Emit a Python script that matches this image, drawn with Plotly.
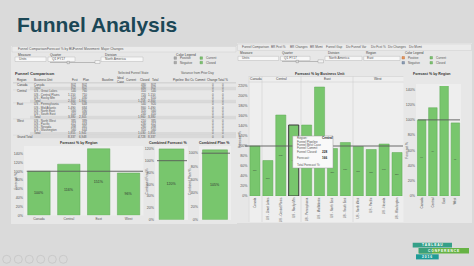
import plotly.graph_objects as go

W, H = 474, 266
def fx(p): return p / W
def fy(p): return 1 - p / H

# ---------------- data ----------------
regions = ["Canada", "Central", "East", "West"]
region_fcst_pct = [1.00, 1.16, 1.51, 0.96]
combined_fcst_pct = [1.20]
combined_plan_pct = [1.05]

bu_names = ["Canada", "US - Great Lakes", "US - Central Plains", "US - Rocky Mtn",
            "US - Pennsylvania", "US - Mid Atlantic", "US - North East", "US - South East",
            "US - North West", "US - Pacific", "US - Nevada", "US - Washington"]
bu_fcst_pct = [1.00, 0.71, 1.62, 1.42, 1.42, 2.18, 0.95, 1.07, 0.99, 0.93, 1.04, 0.87]
bu_groups = ["Canada", "Central", "East", "West"]

tbl_region = ["Canada", "", "Central", "", "", "", "East", "", "", "", "", "West", "", "", "", "", "Grand Total"]
tbl_unit = ["Canada", "Total", "US - Great Lakes", "US - Central Plains", "US - Rocky Mtn", "Total",
            "US - Pennsylvania", "US - Mid Atlantic", "US - North East", "US - South East", "Total",
            "US - North West", "US - Pacific", "US - Nevada", "US - Washington", "Total", ""]
tbl_fcst = [802, 802, 540, 1150, 610, 2300, 920, 1490, 560, 410, 3380, 385, 412, 498, 560, 1855, 8337]
tbl_plan = [802, 802, 760, 710, 430, 1900, 648, 684, 590, 383, 2305, 389, 443, 465, 644, 1941, 6948]
tbl_closed = [480, 480, 310, 720, 228, 1258, 540, 860, 320, 240, 1960, 210, 230, 280, 310, 1030, 4728]
tbl_total = [802, 802, 540, 1150, 610, 2300, 920, 1490, 560, 410, 3380, 385, 412, 498, 560, 1855, 8337]
tbl_var1 = [0] * 17
tbl_var2 = [0] * 17

left_tabs = ["Funnel Comparison", "Forecast % by BU", "Funnel Movement", "Major Changes"]
right_tabs = ["Funnel Comparison", "BR Fcst %", "BR Changes", "BR Mvmt", "Funnel Gap",
              "Div Funnel Var", "Div Fcst %", "Div Changes", "Div Mvmt"]

# ---------------- styles ----------------
FONT = "Liberation Sans, Arial, sans-serif"
BAR = "#78c66d"
BAR_LINE = "#5ea955"
TXT = "#555555"
SMALL = 3.6

fig = go.Figure()
shapes = []
ann = []

def rect(x0, y0, x1, y1, fill, line=None, lw=0.6, layer="below"):
    shapes.append(dict(type="rect", xref="paper", yref="paper", x0=fx(x0), x1=fx(x1),
                       y0=fy(y1), y1=fy(y0), fillcolor=fill, layer=layer,
                       line=dict(color=line or fill, width=lw if line else 0)))

def hline(x0, x1, y, color="#c4c4c4", w=0.6, layer="below"):
    shapes.append(dict(type="line", xref="paper", yref="paper", x0=fx(x0), x1=fx(x1),
                       y0=fy(y), y1=fy(y), layer=layer, line=dict(color=color, width=w)))

def vline(x, y0, y1, color="#c4c4c4", w=0.6, layer="below"):
    shapes.append(dict(type="line", xref="paper", yref="paper", x0=fx(x), x1=fx(x),
                       y0=fy(y0), y1=fy(y1), layer=layer, line=dict(color=color, width=w)))

def txt(x, y, s, size=SMALL, color=TXT, xa="left", angle=0, bold=False):
    if bold:
        s = "<b>" + s + "</b>"
    ann.append(dict(x=fx(x), y=fy(y), xref="paper", yref="paper", text=s, showarrow=False,
                    xanchor=xa, yanchor="middle", textangle=angle,
                    font=dict(size=size, color=color, family=FONT)))

# ---------------- background panels ----------------
rect(11, 46, 237, 224, "#e7e7e7")
rect(237, 43, 472, 223, "#e7e7e7")

# title
txt(14.5, 24.5, "Funnel Analysis", size=21, color="#1b4756", bold=True)

# left tabs / filters
rect(12, 46.5, 236, 52, "#ebebeb", "#cfcfcf", 0.5)
tab_x = [16, 45, 71, 99]
for x, t in zip(tab_x, left_tabs):
    txt(x, 49.3, t, size=3.3)
txt(16, 54.5, "Measure", size=3.3, color="#444")
txt(48, 54.5, "Quarter", size=3.3, color="#444")
txt(103, 54.5, "Division", size=3.3, color="#444")
txt(174, 54.5, "Color Legend", size=3.3, color="#444")
rect(15, 57, 46, 61.5, "#f7f7f7", "#b9b9b9", 0.5)
txt(16.5, 59.3, "Units", size=3.3)
rect(48, 57, 75, 61.5, "#f7f7f7", "#b9b9b9", 0.5)
txt(49.5, 59.3, "Q1 FY17", size=3.3)
hline(50, 96, 62.5, "#999", 0.6)
rect(67, 61.3, 69.5, 63.7, "#dcdcdc", "#888", 0.4)
rect(95, 60.5, 100, 63.5, "#f2f2f2", "#999", 0.4)
rect(101, 57, 143, 61.5, "#f7f7f7", "#b9b9b9", 0.5)
txt(102.5, 59.3, "North America", size=3.3)
rect(174, 56.8, 176.5, 59.3, "#aaaaaa", "#888", 0.4)
txt(178, 58.1, "Positive", size=3.1)
rect(174, 61.3, 176.5, 63.8, "#aaaaaa", "#888", 0.4)
txt(178, 62.6, "Negative", size=3.1)
rect(200, 56.8, 202.5, 59.3, "#7cc36f", "#5b9c52", 0.4)
txt(204, 58.1, "Current", size=3.1)
rect(200, 61.3, 202.5, 63.8, "#7cc36f", "#5b9c52", 0.4)
txt(204, 62.6, "Closed", size=3.1)

# ---------------- table ----------------
txt(13, 73.3, "Funnel Comparison", size=4.2, color="#333", bold=True)
txt(133, 73.3, "Selected Funnel State", size=3.1, xa="center")
txt(197, 73.3, "Variance from Prior Day", size=3.1, xa="center")
hdr_y = 80
headers = [(15, "Region", "left"), (31.7, "Business Unit", "left"), (75, "Fcst", "center"),
           (86, "Plan", "center"), (108, "Baseline", "center"), (120, "Ideal<br>Case", "center"),
           (131, "Current", "center"), (145, "Closed", "center"), (155, "Total", "center"),
           (178, "Pipeline", "center"), (189, "Bst Cs", "center"), (200, "Commit", "center"),
           (212, "Change", "center"), (223, "Total %", "center")]
for x, h, a in headers:
    txt(x, hdr_y, h, size=3.0, color="#444", xa=a)
hline(13, 236, 82.5, "#c6c6c6", 0.5)
row_h = 3.23
for i in range(17):
    y = 85 + i * row_h
    if tbl_unit[i] == "Total" or tbl_region[i] == "Grand Total":
        rect(30, y - 1.5, 236, y + 1.5, "#d9d9d9")
    if tbl_region[i]:
        hline(13, 236, y - 1.6, "#cccccc", 0.4)
        txt(14.5, y, tbl_region[i], size=3.0, color="#444")
    txt(31.7, y, tbl_unit[i], size=3.0, color="#555")
    txt(78, y, f"{tbl_fcst[i]:,}", size=3.0, color="#555", xa="right")
    txt(89, y, f"{tbl_plan[i]:,}", size=3.0, color="#555", xa="right")
    txt(148, y, f"{tbl_closed[i]:,}", size=3.0, color="#555", xa="right")
    txt(158, y, f"{tbl_total[i]:,}", size=3.0, color="#555", xa="right")
    txt(212.7, y, str(tbl_var1[i]), size=3.0, color="#555", xa="center")
    txt(223, y, str(tbl_var2[i]), size=3.0, color="#555", xa="center")

# ---------------- axes helpers ----------------
tick_font = dict(size=SMALL, color=TXT, family=FONT)
def yax(dom, rng, anchor, show=True):
    return dict(domain=[fy(dom[1]), fy(dom[0])], range=rng, anchor=anchor, showgrid=False,
                zeroline=False, showline=False, ticks="", tickformat=".0%", dtick=0.2,
                automargin=False, showticklabels=show, tickfont=tick_font, fixedrange=True)
def xax(dom, anchor, show=True, angle=0, size=3.3):
    return dict(domain=[fx(dom[0]), fx(dom[1])], anchor=anchor, showgrid=False, zeroline=False,
                showline=False, ticks="", automargin=False, showticklabels=show,
                tickfont=dict(size=size, color=TXT, family=FONT), tickangle=angle, fixedrange=True)

def pct_text(vals):
    return [f"{v*100:.0f}%" for v in vals]

bar_common = dict(marker=dict(color=BAR, line=dict(color=BAR_LINE, width=0.5)),
                  textposition="inside", insidetextanchor="middle", textangle=0,
                  textfont=dict(size=SMALL, color="#333", family=FONT), showlegend=False,
                  hoverinfo="skip", cliponaxis=False)

# ---------------- left charts ----------------
rect(24, 146, 143.5, 215.5, "#eeeeee")
rect(155, 146, 188, 220, "#eeeeee")
rect(199, 146, 231, 220, "#eeeeee")

fig.add_trace(go.Bar(x=regions, y=region_fcst_pct, text=pct_text(region_fcst_pct), width=0.75,
                     xaxis="x", yaxis="y", **bar_common))
fig.add_trace(go.Bar(x=["Combined"], y=combined_fcst_pct, text=pct_text(combined_fcst_pct), width=0.75,
                     xaxis="x2", yaxis="y2", **bar_common))
fig.add_trace(go.Bar(x=["Combined"], y=combined_plan_pct, text=pct_text(combined_plan_pct), width=0.78,
                     xaxis="x3", yaxis="y3", **bar_common))

txt(79, 143, "Forecast % by Region", size=3.6, color="#333", xa="center", bold=True)
txt(168, 143, "Combined Forecast %", size=3.6, color="#333", xa="center", bold=True)
txt(214, 143, "Combined Plan %", size=3.6, color="#333", xa="center", bold=True)
txt(15.5, 181, "Forecast %", size=3.3, angle=-90, xa="center")
txt(146.5, 182, "Combined Fcst %", size=3.3, angle=-90, xa="center")
txt(190, 182, "Combined Plan %", size=3.3, angle=-90, xa="center")

# ---------------- right panel header ----------------
rect(237.5, 44, 471.5, 50.5, "#ebebeb", "#cfcfcf", 0.5)
rtab_x = [239.7, 268.7, 287.5, 307.7, 324.3, 343.7, 368.7, 386, 407]
for x, t in zip(rtab_x, right_tabs):
    txt(x, 47.3, t, size=3.1)
for x, t in [(238, "Measure"), (280.3, "Quarter"), (326, "Division"), (364, "Region")]:
    txt(x, 53.3, t, size=3.2, color="#444")
rect(238, 56.3, 278.7, 60.5, "#f7f7f7", "#b9b9b9", 0.5)
txt(239.5, 58.4, "Units", size=3.2)
rect(280.5, 56.3, 310, 60.5, "#f7f7f7", "#b9b9b9", 0.5)
txt(282, 58.4, "Q1 FY17", size=3.2)
hline(282, 320, 61.5, "#999", 0.6)
rect(296, 60.3, 298.5, 62.7, "#dcdcdc", "#888", 0.4)
rect(318, 59.8, 323.5, 62.8, "#f2f2f2", "#999", 0.4)
rect(325, 56.3, 362, 60.5, "#f7f7f7", "#b9b9b9", 0.5)
txt(326.5, 58.4, "North America", size=3.2)
rect(363.7, 56.3, 400, 60.5, "#f7f7f7", "#b9b9b9", 0.5)
txt(365.2, 58.4, "East", size=3.2)
txt(402.7, 53.3, "Color Legend", size=3.1, color="#444")
rect(402, 56.5, 404.5, 59, "#e8955a", "#b86b37", 0.4)
txt(406, 57.8, "Positive", size=3.0)
rect(402, 61.5, 404.5, 64, "#8a9db5", "#5f7089", 0.4)
txt(406, 62.8, "Negative", size=3.0)
rect(430, 56.5, 432.5, 59, "#7cc36f", "#5b9c52", 0.4)
txt(434, 57.8, "Current", size=3.0)
rect(430, 61.5, 432.5, 64, "#7cc36f", "#5b9c52", 0.4)
txt(434, 62.8, "Closed", size=3.0)

# ---------------- right charts ----------------
rect(248.5, 76, 403.5, 222, "#eeeeee")
rect(416, 84, 461, 196, "#eeeeee")
txt(320, 74, "Forecast % by Business Unit", size=3.6, color="#333", xa="center", bold=True)
hline(248.5, 403.5, 76.5, "#c8c8c8", 0.5)
hline(248.5, 403.5, 82, "#c8c8c8", 0.5)
for x in [249, 262, 301, 353]:
    vline(x, 76.5, 222, "#c8c8c8", 0.5)
for x, g in zip([255.5, 281.5, 327, 378], bu_groups):
    txt(x, 79.3, g, size=3.3, color="#444", xa="center")

bu_line_colors = [BAR_LINE] * 12
bu_line_colors[3] = "#3a3a3a"
bu_line_widths = [0.5] * 12
bu_line_widths[3] = 1.0
bu_kw = dict(bar_common)
bu_kw["marker"] = dict(color=BAR, line=dict(color=bu_line_colors, width=bu_line_widths))
fig.add_trace(go.Bar(x=bu_names, y=bu_fcst_pct, text=pct_text(bu_fcst_pct), width=0.78,
                     xaxis="x4", yaxis="y4", **bu_kw))
fig.add_trace(go.Bar(x=regions, y=region_fcst_pct, text=pct_text(region_fcst_pct), width=0.76,
                     xaxis="x5", yaxis="y5", **bar_common))
txt(240, 140, "Forecast %", size=3.3, angle=-90, xa="center")
txt(432, 74.3, "Forecast % by Region", size=3.6, color="#333", xa="center", bold=True)
txt(406.7, 150, "Forecast %", size=3.3, angle=-90, xa="center")

# reference lines at 100 %
for ax, x0, x1 in [("y", 26.7, 143), ("y2", 157, 187), ("y3", 201.7, 230),
                   ("y4", 245, 403), ("y5", 418, 460)]:
    shapes.append(dict(type="line", xref="paper", yref=ax, x0=fx(x0), x1=fx(x1), y0=1.0, y1=1.0,
                       layer="above", line=dict(color="#5a5a5a", width=0.9)))

# tooltip
rect(292.7, 136, 333, 168, "#f9f9f9", "#9a9a9a", 0.5, layer="above")
tip = [(138.3, "Region:", "Central"), (141.7, "Funnel Pipeline", ""), (145, "Funnel Best Case", ""),
       (148.3, "Funnel Commit", ""), (152, "Funnel Closed:", "228"), (158, "Forecast:", "166"),
       (164.7, "Total Forecast %:", "")]
for y, a, b in tip:
    txt(295.3, y, a, size=3.0, color="#555")
    if b:
        txt(320, y, b, size=3.1, color="#222", bold=True)

# ---------------- logo & slide controls ----------------
rect(412.7, 242.7, 452, 247.4, "#35a088")
txt(432.3, 245.1, "T A B L E A U", size=3.3, color="white", xa="center", bold=True)
rect(418.7, 248, 469, 253.4, "#66b344")
rect(418.7, 248, 432, 253.4, "#3aa07a")
txt(443.8, 250.7, "C O N F E R E N C E", size=3.3, color="white", xa="center", bold=True)
rect(416, 254.3, 438.7, 259.4, "#1f9c97")
txt(427.3, 256.9, "2 0 1 6", size=3.3, color="white", xa="center", bold=True)
for x in [6.7, 18.3, 29.3, 40.7, 52.3, 63.3]:
    shapes.append(dict(type="circle", xref="paper", yref="paper", x0=fx(x - 4), x1=fx(x + 4),
                       y0=fy(263.3), y1=fy(255.3), line=dict(color="#c2c2c2", width=0.7),
                       fillcolor="rgba(0,0,0,0)"))

fig.update_layout(
    width=W, height=H, margin=dict(l=0, r=0, t=0, b=0),
    paper_bgcolor="#dadada", plot_bgcolor="rgba(0,0,0,0)",
    font=dict(family=FONT), showlegend=False, bargap=0.2,
    xaxis=xax((24, 143.5), "y"), yaxis=yax((147, 215.3), [0, 1.55], "x"),
    xaxis2=xax((155, 188), "y2", show=False), yaxis2=yax((147, 219.7), [0, 1.232], "x2"),
    xaxis3=xax((199, 231), "y3", show=False), yaxis3=yax((148, 219.7), [0, 1.078], "x3"),
    xaxis4=xax((248.5, 403.5), "y4", angle=-90, size=2.9), yaxis4=yax((84, 196), [0, 2.24], "x4"),
    xaxis5=xax((416, 461), "y5", angle=-90, size=3.1), yaxis5=yax((86, 196), [0, 1.445], "x5"),
    shapes=shapes, annotations=ann,
)

fig.write_html("out.html")
